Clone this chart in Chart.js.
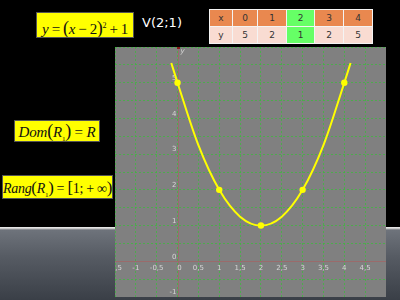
<!DOCTYPE html>
<html>
<head>
<meta charset="utf-8">
<script src="https://cdn.jsdelivr.net/npm/chart.js@4.4.0/dist/chart.umd.min.js"></script>
<style>
  html, body { margin: 0; padding: 0; background: #000; width: 400px; height: 300px; overflow: hidden; }
  #bg { position: absolute; left: 0; top: 227px; width: 400px; height: 73px;
        background: linear-gradient(#f2f2f2 0px, #c8c8c8 1.5px, #6e737b 3px, #565b63 30px, #3a3f47 100%); }
  #wrap { position: absolute; left: 115px; top: 47px; width: 271px; height: 250px; }
  .box { position: absolute; background: #ffff00; border: 1px solid #555; box-sizing: border-box;
         font-family: "Liberation Serif", serif; color: #111; white-space: nowrap; text-align: center; overflow: hidden; }
  .big { font-size: 1.2em; }
  #vertex { position: absolute; left: 142px; top: 15px; color: #fff; font: 13px "DejaVu Sans", sans-serif; }
  #tbl { position: absolute; left: 209px; top: 9px; border-collapse: collapse; font: 9px "DejaVu Sans", sans-serif; color: #333; }
  #tbl td { border: 1px solid #f4f4f4; height: 16px; padding: 0; text-align: center; }
  #tbl tr:first-child td { background: #e9884f; }
  #tbl tr:last-child td { background: #f9dcd2; }
  #tbl td.hl { background: #66ff66 !important; }
</style>
</head>
<body>
<div id="bg"></div>

<div class="box" style="left:36px;top:12px;width:98px;height:26px;font-size:15px;line-height:25px;letter-spacing:-0.4px;">
  <i>y</i> = <span class="big">(</span><i>x</i> − 2<span class="big">)</span><sup style="font-size:8px">2</sup> + 1
</div>
<div id="vertex">V(2;1)</div>

<div class="box" style="left:14px;top:120px;width:86px;height:22px;font-size:15px;line-height:21px;letter-spacing:-0.2px;">
  <i>Dom</i><span class="big">(</span><i>R</i><sub style="font-size:7px">1</sub><span class="big">)</span> = <i>R</i>
</div>
<div class="box" style="left:2px;top:175px;width:111px;height:24px;font-size:14px;line-height:23px;letter-spacing:-0.3px;">
  <i>Rang</i><span class="big">(</span><i>R</i><sub style="font-size:7px">1</sub><span class="big">)</span> = <span class="big">[</span>1; + ∞<span class="big">)</span>
</div>

<table id="tbl"></table>

<div id="wrap"><canvas id="chart"></canvas></div>

<script>
// table / marked points
const tableX = [0, 1, 2, 3, 4];
const tableY = [5, 2, 1, 2, 5];
const vertexIndex = 2;

// curve
const curveX = [-0.15, 0, 0.5, 1, 1.5, 2, 2.5, 3, 3.5, 4, 4.15];
const curveY = [5.55, 5, 3.25, 2, 1.25, 1, 1.25, 2, 3.25, 5, 5.55];

// axis labels
const xTicks = [-1.5, -1, -0.5, 0, 0.5, 1, 1.5, 2, 2.5, 3, 3.5, 4, 4.5];
const xTickLabels = ['-1,5', '-1', '-0,5', '0', '0,5', '1', '1,5', '2', '2,5', '3', '3,5', '4', '4,5'];
const yTicks = [-1, 0, 1, 2, 3, 4, 5];
const yTickLabels = ['-1', '0', '1', '2', '3', '4', '5'];

// build the table
const tbl = document.getElementById('tbl');
const widths = [22, 24, 28, 27, 28, 28];
[['x', tableX], ['y', tableY]].forEach(([name, vals]) => {
  const tr = document.createElement('tr');
  [name, ...vals].forEach((v, i) => {
    const td = document.createElement('td');
    td.textContent = v;
    td.style.width = widths[i] + 'px';
    if (i - 1 === vertexIndex) td.className = 'hl';
    tr.appendChild(td);
  });
  tbl.appendChild(tr);
});

const axesPlugin = {
  id: 'axesPlugin',
  beforeDraw(chart) {
    const { ctx, chartArea: a } = chart;
    ctx.save();
    ctx.fillStyle = '#808080';
    ctx.fillRect(a.left, a.top, a.right - a.left, a.bottom - a.top);
    ctx.restore();
  },
  beforeDatasetsDraw(chart) {
    const { ctx, chartArea: a, scales: { x, y } } = chart;
    const x0 = Math.round(x.getPixelForValue(0)) + 0.5;
    const y0 = Math.round(y.getPixelForValue(0)) + 0.5;
    ctx.save();
    ctx.strokeStyle = '#9a6b6b';
    ctx.lineWidth = 1;
    ctx.beginPath();
    ctx.moveTo(a.left, y0); ctx.lineTo(a.right, y0);
    ctx.moveTo(x0, a.top); ctx.lineTo(x0, a.bottom);
    ctx.stroke();
    ctx.fillStyle = '#8b1a1a';
    ctx.fillRect(x0 - 1.5, a.top, 3, 2);

    ctx.fillStyle = '#d6d6d6';
    ctx.font = '7px "DejaVu Sans", sans-serif';
    ctx.textAlign = 'center';
    ctx.textBaseline = 'top';
    xTicks.forEach((v, i) => {
      const px = x.getPixelForValue(v) + (v === 0 ? 2 : 0);
      ctx.fillText(xTickLabels[i], px, y0 + 3);
    });
    ctx.textAlign = 'right';
    ctx.textBaseline = 'bottom';
    yTicks.forEach((v, i) => {
      ctx.fillText(yTickLabels[i], x0 - 2, y.getPixelForValue(v) - 1);
    });
    ctx.textAlign = 'left';
    ctx.font = 'italic 7px "DejaVu Sans", sans-serif';
    ctx.textBaseline = 'top';
    ctx.fillText('y', x0 + 2, a.top + 1);
    ctx.restore();
  }
};

const gridOpts = { color: 'rgba(60, 185, 60, 0.75)', lineWidth: 1, drawTicks: false };

new Chart(document.getElementById('chart'), {
  type: 'scatter',
  data: {
    datasets: [
      {
        data: curveX.map((v, i) => ({ x: v, y: curveY[i] })),
        showLine: true,
        borderColor: '#ffff00',
        borderWidth: 2,
        pointRadius: 0,
        cubicInterpolationMode: 'monotone'
      },
      {
        data: tableX.map((v, i) => ({ x: v, y: tableY[i] })),
        pointRadius: 3.2,
        pointBackgroundColor: '#ffff00',
        pointBorderColor: '#ffff00',
        pointBorderWidth: 0
      }
    ]
  },
  options: {
    responsive: true,
    maintainAspectRatio: false,
    animation: false,
    layout: { padding: 0, autoPadding: false },
    plugins: { legend: { display: false }, tooltip: { enabled: false } },
    scales: {
      x: {
        type: 'linear', min: -1.5, max: 5,
        ticks: { display: false, stepSize: 0.5 },
        grid: gridOpts,
        border: { display: false, dash: [2, 2] }
      },
      y: {
        type: 'linear', min: -1, max: 6,
        ticks: { display: false, stepSize: 0.5 },
        grid: gridOpts,
        border: { display: false, dash: [2, 2] }
      }
    }
  },
  plugins: [axesPlugin]
});
</script>
</body>
</html>
